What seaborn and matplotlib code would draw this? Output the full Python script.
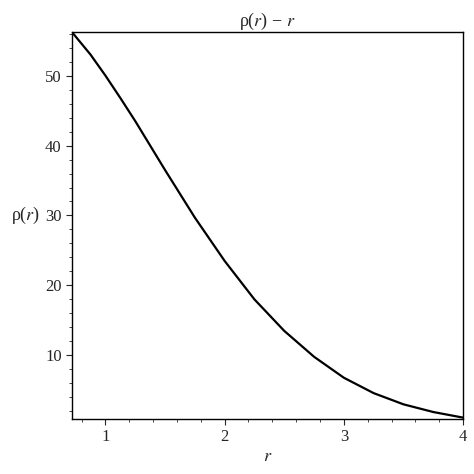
import matplotlib
matplotlib.use("Agg")
import matplotlib.pyplot as plt
import seaborn as sns
import pandas as pd
from matplotlib.ticker import MultipleLocator

# values
r_vals = [0.73, 0.875, 1.0, 1.125, 1.25, 1.375, 1.5, 1.75, 2.0, 2.25, 2.5, 2.75, 3.0, 3.25, 3.5, 3.75, 4.0]
rho_vals = [56.0, 53.0, 50.0, 46.8, 43.5, 40.0, 36.5, 29.7, 23.5, 18.0, 13.5, 9.8, 6.8, 4.6, 3.0, 1.9, 1.1]

df = pd.DataFrame({"r": r_vals, "rho": rho_vals})

sns.set_style("white")
plt.rcParams['font.family'] = ['Liberation Serif', 'DejaVu Serif']
plt.rcParams['mathtext.fontset'] = 'stix'

fig, ax = plt.subplots(figsize=(4.74, 4.74), dpi=100)
fig.subplots_adjust(left=0.152, right=0.977, top=0.932, bottom=0.116)
sns.lineplot(data=df, x="r", y="rho", color="black", linewidth=1.6, ax=ax)

ax.set_xlim(0.72, 4.0)
ax.set_ylim(0.9, 56.2)
ax.set_xticks([1, 2, 3, 4])
ax.set_yticks([10, 20, 30, 40, 50])
ax.xaxis.set_minor_locator(MultipleLocator(0.2))
ax.yaxis.set_minor_locator(MultipleLocator(2))
ax.tick_params(which="major", direction="out", length=4, labelsize=12, bottom=True, left=True)
ax.tick_params(which="minor", direction="out", length=2, bottom=True, left=True)
for s in ax.spines.values():
    s.set_color("black")
    s.set_linewidth(1.0)

ax.set_xlabel("$r$", fontsize=13, labelpad=2)
ax.set_ylabel("ρ($r$)", fontsize=13, rotation=0, labelpad=14)
ax.set_title("ρ($r$) − $r$", fontsize=13, pad=3)

plt.savefig("out.png", dpi=100)
